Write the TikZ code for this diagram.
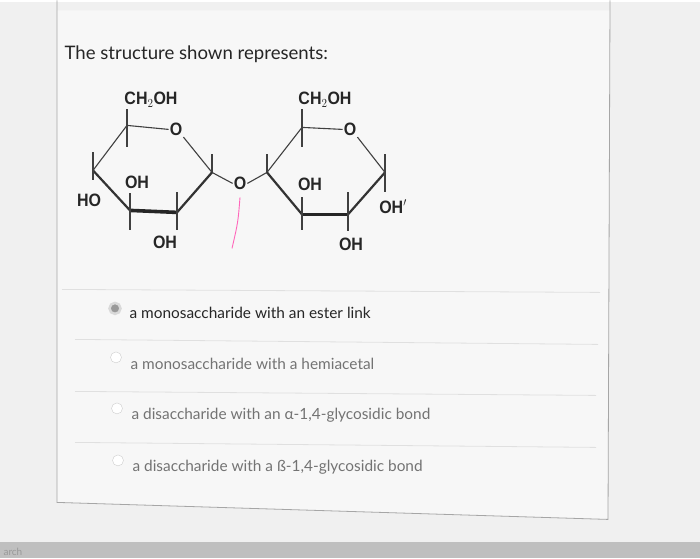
\documentclass[tikz,border=0pt]{standalone}
\usepackage{fontspec}
\setmainfont{Lato}
\newfontfamily\chemfont{Liberation Sans}
\begin{document}
\begin{tikzpicture}[x=1pt,y=-1pt,
  bond/.style={line width=1.1pt,color=black!75},
  mbond/.style={line width=2.2pt,color=black!80},
  hbond/.style={line width=3.6pt,color=black!85},
  lab/.style={font=\chemfont\bfseries\fontsize{16}{16}\selectfont,inner sep=1pt,text=black!85,yscale=1.12},
  opt/.style={anchor=west,font=\fontsize{15.4}{15.4}\selectfont,text=black!85},
  optg/.style={anchor=west,font=\fontsize{15.4}{15.4}\selectfont,text=black!55},
  sep/.style={color=black!12,line width=0.8pt},
  radio/.style={circle,draw=black!20,fill=white,minimum size=11pt,inner sep=0pt}]
\fill[black!6] (0,0) rectangle (700,556);
\fill[black!3] (57,8) -- (610,8) -- (608,517) -- (57,500) -- cycle;
\draw[black!35,line width=0.8pt] (57,-2) -- (57,500) -- (608,517) -- (610,-2);
\fill[black!25] (0,540) rectangle (700,556);
\node[anchor=west,font=\fontsize{10}{10}\selectfont,text=black!40] (srch) at (0,549) {arch};
\node[anchor=west,font=\fontsize{18.6}{18.6}\selectfont,text=black!85] (title) at (61,52) {The structure shown represents:};
% left ring
\coordinate (a5) at (127,123); \coordinate (a1) at (212,170); \coordinate (a2) at (177,210);
\coordinate (a3) at (130,208); \coordinate (a4) at (93,168);
\node[lab] (aO) at (176,127) {O};
\node[lab] (aCH) at (151,97) {CH$_2$OH};
\draw[bond] (a5) -- (aO.west); \draw[bond] (aO.south east) -- (a1);
\draw[bond] (a4) -- (a5);
\draw[mbond] (a1) -- (a2); \draw[hbond] (a2) -- (a3); \draw[mbond] (a3) -- (a4);
\draw[bond] (127,107) -- (127,145);
\draw[bond] (212,152) -- (a1);
\draw[bond] (177,190) -- (177,228);
\draw[bond] (130,191) -- (130,228);
\draw[bond] (93,150) -- (93,178);
\node[lab] (aOH3) at (137,180) {OH};
\node[lab] (aOH2) at (165,240) {OH};
\node[lab] (aHO) at (89,198) {HO};
% glycosidic O
\node[lab] (gO) at (240,181) {O};
\draw[bond] (a1) -- (gO.west); \draw[bond] (gO.east) -- (267,170);
% right ring
\coordinate (b4) at (267,170); \coordinate (b5) at (302,125); \coordinate (b1) at (385,170);
\coordinate (b2) at (348,212); \coordinate (b3) at (302,212);
\node[lab] (bO) at (350,127) {O};
\node[lab] (bCH) at (325,97) {CH$_2$OH};
\draw[bond] (b4) -- (b5); \draw[bond] (b5) -- (bO.west); \draw[bond] (bO.south east) -- (b1);
\draw[mbond] (b4) -- (b3); \draw[hbond] (b3) -- (b2); \draw[mbond] (b2) -- (b1);
\draw[bond] (302,107) -- (302,145);
\draw[bond] (267,152) -- (b4);
\draw[bond] (385,152) -- (385,190);
\draw[bond] (348,190) -- (348,229);
\draw[bond] (302,195) -- (302,228);
\node[lab] (bOH3) at (310,182) {OH};
\node[lab] (bOH2) at (351,242) {OH};
\node[lab] (bOH1) at (393,204) {OH$'$};
% pink stroke
\draw[color=red!45!magenta!60,line width=0.9pt] (232,246) .. controls (238,220) .. (240,195);
% options
\draw[sep] (62,287) -- (600,290);
\draw[sep] (75,337) -- (598,342);
\draw[sep] (75,389) -- (596,393);
\draw[sep] (75,440) -- (596,445);
\node[radio,fill=black!40,draw=black!15,line width=2.5pt] (r1) at (115,306) {};
\node[opt] (o1) at (126,310) {a monosaccharide with an ester link};
\node[radio] (r2) at (116,355) {};
\node[optg] (o2) at (127,361) {a monosaccharide with a hemiacetal};
\node[radio] (r3) at (117,406) {};
\node[optg] (o3) at (128,413) {a disaccharide with an α-1,4-glycosidic bond};
\node[radio] (r4) at (118,458) {};
\node[optg] (o4) at (129,465) {a disaccharide with a ß-1,4-glycosidic bond};
\end{tikzpicture}
\end{document}
